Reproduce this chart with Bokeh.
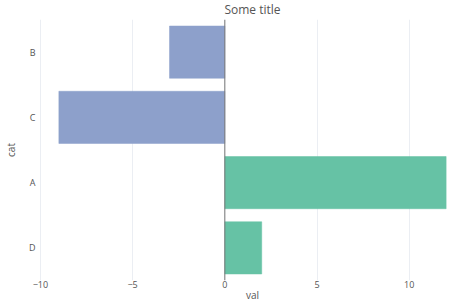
from bokeh.plotting import figure
from bokeh.models import ColumnDataSource, FactorRange, Range1d, FixedTicker, Span
from bokeh.embed import file_html
from bokeh.resources import INLINE

cats = ["B", "C", "A", "D"]
vals = [-3, -9, 12, 2]
colors = ["#8da0cb", "#8da0cb", "#66c2a5", "#66c2a5"]
xticks = [-10, -5, 0, 5, 10]
xtick_labels = ["\u221210", "\u22125", "0", "5", "10"]
title = "Some title"

src = ColumnDataSource(dict(cat=cats, val=vals, color=colors))

p = figure(width=474, height=304, output_backend="svg", toolbar_location=None,
           y_range=FactorRange(factors=list(reversed(cats)), range_padding=0),
           x_range=Range1d(-10.05, 13.05),
           min_border_left=37, min_border_right=9, min_border_top=16, min_border_bottom=23)
p.outline_line_color = None
p.background_fill_color = "white"
p.border_fill_color = "white"

p.title.text = title
p.title.align = "center"
p.title.vertical_align = "top"
p.title.text_font = "Open Sans"
p.title.text_font_size = "12px"
p.title.text_font_style = "normal"
p.title.text_color = "#555555"
p.title.text_line_height = 1.0
p.title.standoff = 0
p.title.offset = 0

p.hbar(y="cat", left=0, right="val", height=0.8, fill_color="color",
       line_color="color", line_width=0.5, source=src)

p.add_layout(Span(location=0, dimension="height", line_color="#777777", line_width=1))

p.xaxis.ticker = FixedTicker(ticks=xticks)
p.xaxis.major_label_overrides = {t: l for t, l in zip(xticks, xtick_labels)}
p.xaxis.axis_label = "val"
p.yaxis.axis_label = "cat"
for ax in (p.xaxis, p.yaxis):
    ax.axis_line_color = None
    ax.major_tick_line_color = None
    ax.minor_tick_line_color = None
    ax.major_tick_out = 0
    ax.major_tick_in = 0
    ax.minor_tick_out = 0
    ax.minor_tick_in = 0
    ax.major_label_text_font = "Open Sans"
    ax.major_label_text_font_size = "9px"
    ax.major_label_text_color = "#555555"
    ax.major_label_text_line_height = 1.0
    ax.axis_label_text_font = "Open Sans"
    ax.axis_label_text_font_size = "10px"
    ax.axis_label_text_font_style = "normal"
    ax.axis_label_text_color = "#555555"
    ax.axis_label_text_line_height = 1.0
p.xaxis.major_label_standoff = 0
p.xaxis.axis_label_standoff = -3
p.yaxis.major_label_standoff = 4
p.yaxis.axis_label_standoff = 8

p.xgrid.grid_line_color = "#ebeef3"
p.xgrid.ticker = FixedTicker(ticks=xticks)
p.ygrid.grid_line_color = None

open("out.html", "w").write(file_html(p, INLINE))
